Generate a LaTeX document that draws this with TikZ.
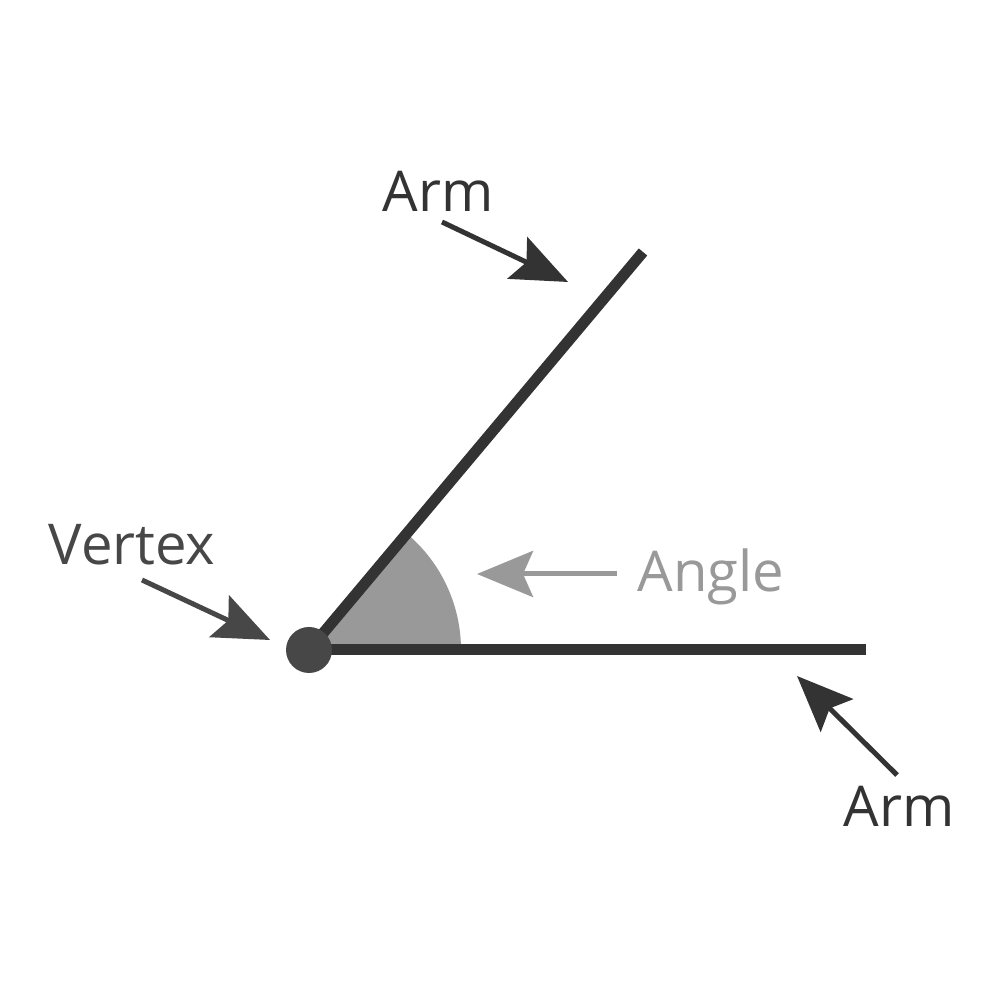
\documentclass[tikz,border=0pt]{standalone}
\usepackage{fontspec}
\setmainfont{Open Sans}
\usepackage{tikz}
\usetikzlibrary{arrows.meta}

\definecolor{armcol}{HTML}{333333}
\definecolor{vtxcol}{HTML}{474747}
\definecolor{angcol}{HTML}{999999}

\begin{document}
\begin{tikzpicture}[label/.style={anchor=base,font=\fontsize{16pt}{18pt}\selectfont},
	pointer/.style={line width=0.5mm,-{Stealth[length=5.6mm,width=4.6mm,inset=1mm]}},
	arm/.style={draw=armcol,line width=1.1mm}]
\useasboundingbox[fill=white] (0,0) rectangle (10,10);
% angle and arms
\coordinate (v) at (3.09,3.50);
\coordinate (top) at (6.43,7.48);
\coordinate (right) at (8.66,3.50);
\fill[angcol] (v) -- ++(1.52,0) arc[start angle=0,end angle=50,radius=1.52] -- cycle;
\draw[arm] (v) -- (top);
\draw[arm] (v) -- (right);
\node[circle,fill=vtxcol,minimum size=4.6mm,inner sep=0pt] (vertex) at (v) {};
% labels
\node[label,text=armcol] (arm1) at (4.38,7.88) {Arm};
\node[label,text=vtxcol] (vlab) at (1.32,4.35) {Vertex};
\node[label,text=angcol] (alab) at (7.11,4.08) {Angle};
\node[label,text=armcol] (arm2) at (8.99,1.73) {Arm};
% pointers
\coordinate (p1s) at (4.42,7.78); \coordinate (p1e) at (5.68,7.18);
\coordinate (p2s) at (1.42,4.20); \coordinate (p2e) at (2.70,3.60);
\coordinate (p3s) at (6.17,4.26); \coordinate (p3e) at (4.77,4.26);
\coordinate (p4s) at (8.97,2.25); \coordinate (p4e) at (7.97,3.24);
\draw[pointer,armcol] (p1s) -- (p1e);
\draw[pointer,vtxcol] (p2s) -- (p2e);
\draw[pointer,angcol] (p3s) -- (p3e);
\draw[pointer,armcol] (p4s) -- (p4e);
\end{tikzpicture}
\end{document}
